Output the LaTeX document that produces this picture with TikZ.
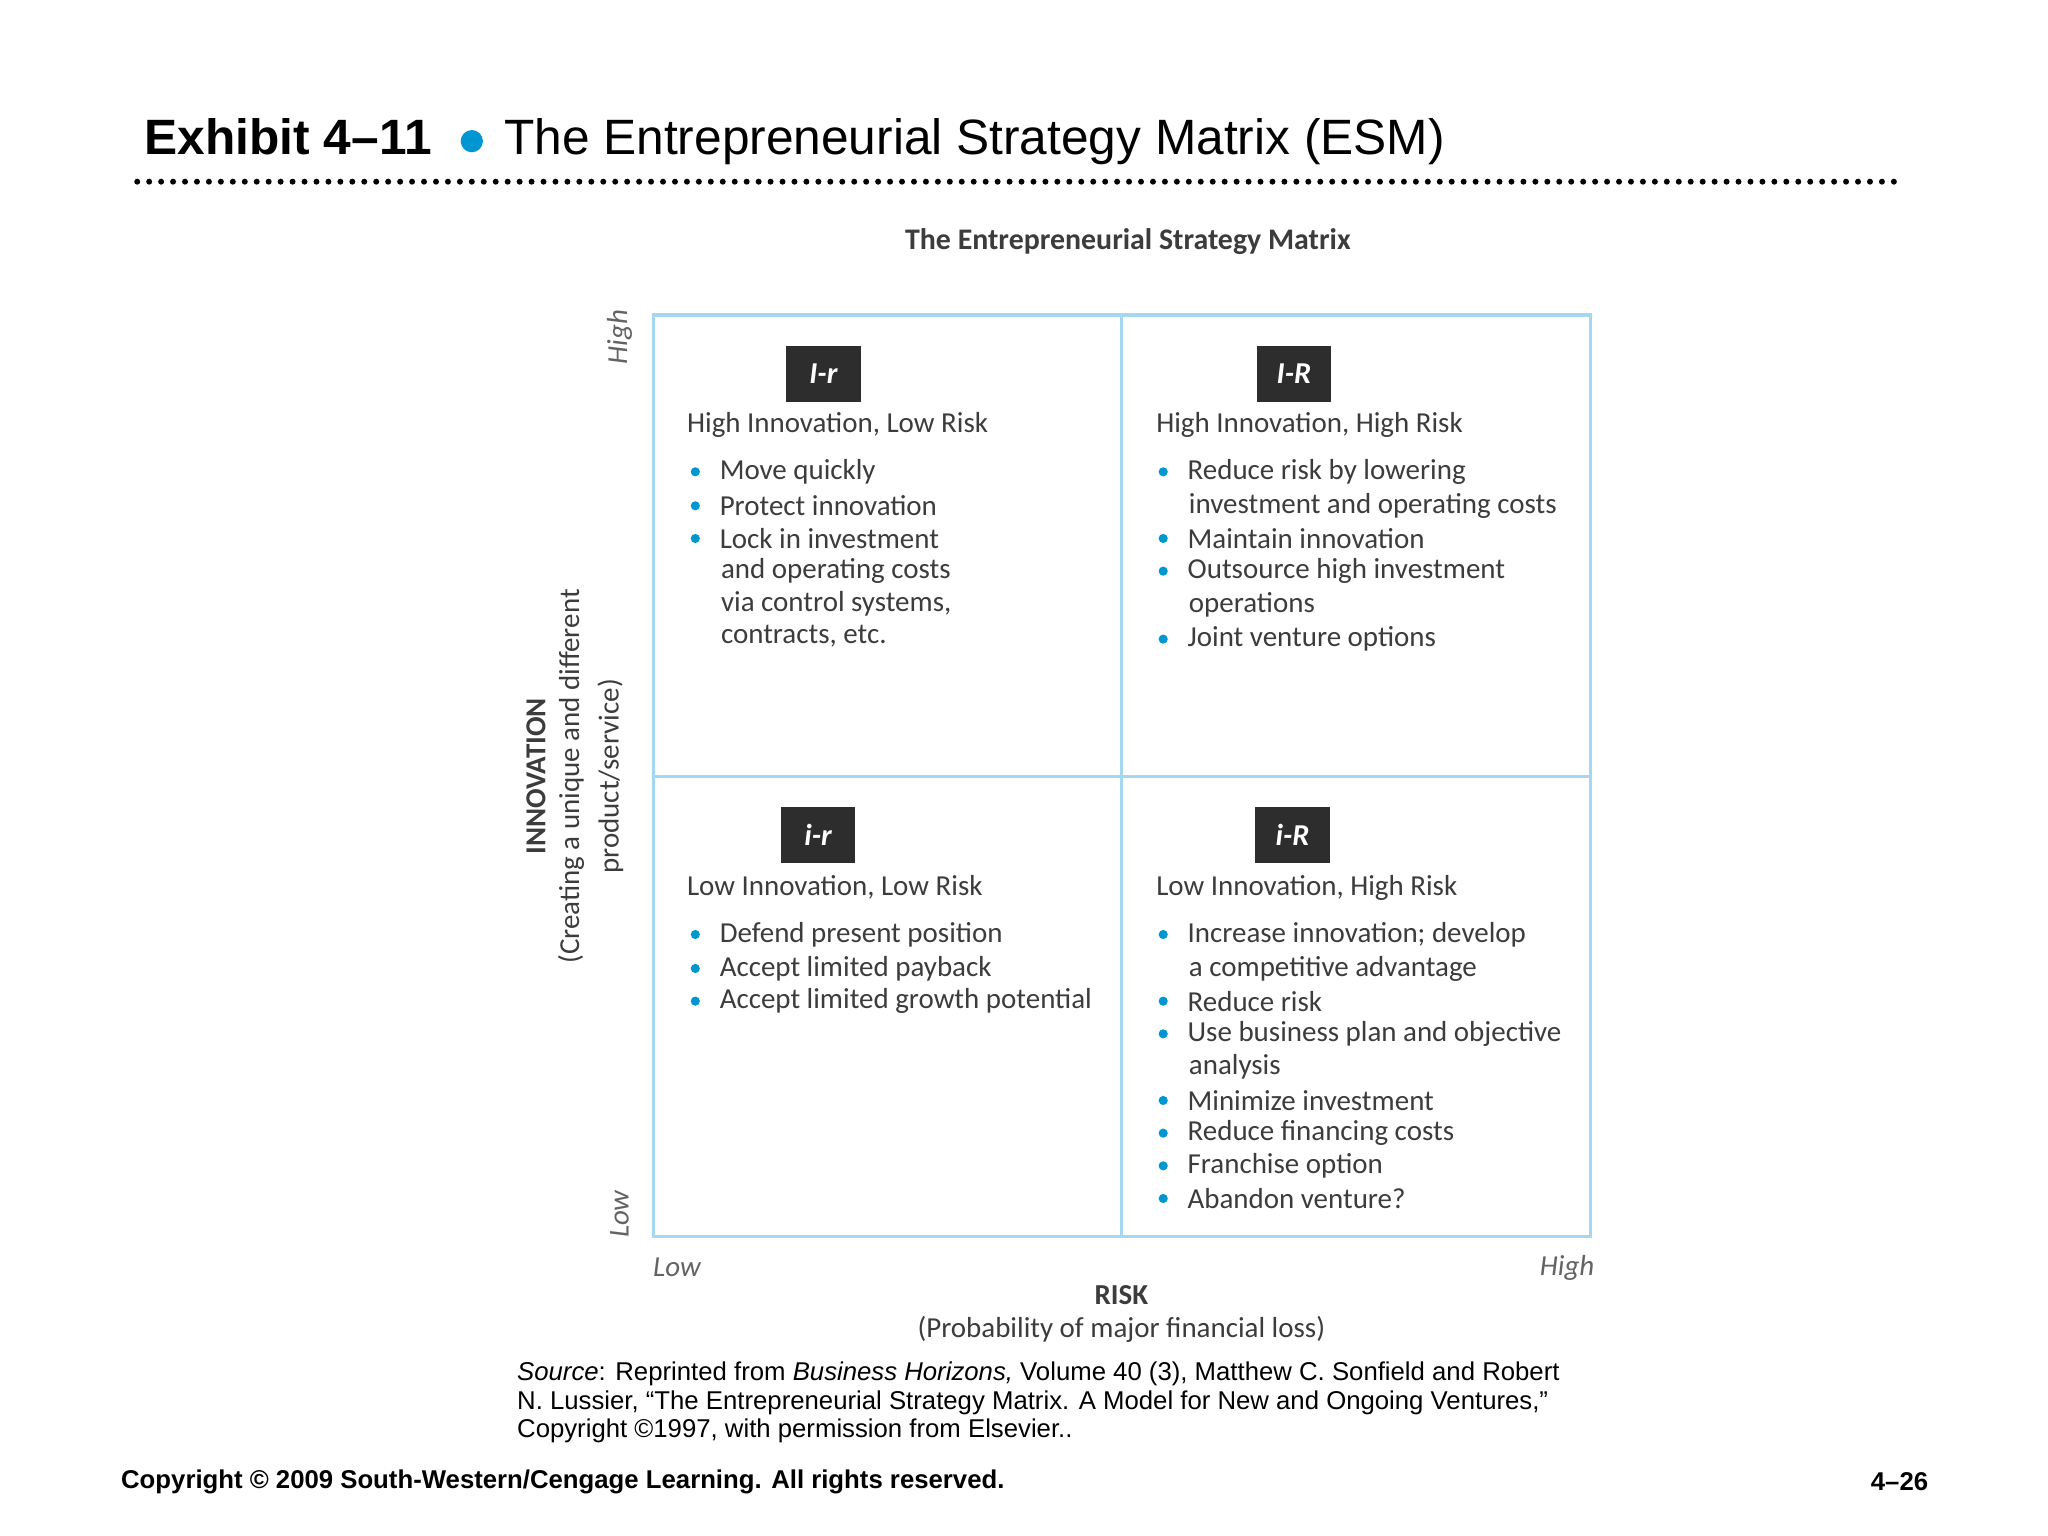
\documentclass[tikz,border=0pt]{standalone}
\usepackage{fontspec}
\setmainfont{Liberation Sans}
\newfontfamily\cond{Carlito}
\definecolor{gridblue}{RGB}{165,215,240}
\definecolor{dotblue}{RGB}{0,150,210}
\definecolor{txt}{RGB}{60,60,60}
\definecolor{boxgray}{RGB}{45,45,45}
\tikzset{
 mt/.style={anchor=west,inner sep=0pt,font=\cond\fontsize{6.3}{7}\selectfont,text=txt},
 lab/.style={fill=boxgray,text=white,minimum width=0.57cm,minimum height=0.43cm,inner sep=0pt,font=\cond\bfseries\itshape\fontsize{6.6}{7}\selectfont},
 bul/.style={circle,fill=dotblue,inner sep=0pt,minimum size=0.07cm},
 ax/.style={inner sep=0pt,font=\cond\itshape\fontsize{6.3}{7}\selectfont,text=txt!80},
 axb/.style={inner sep=0pt,font=\cond\bfseries\fontsize{6.3}{7}\selectfont,text=txt},
 src/.style={anchor=west,inner sep=0pt,font=\fontsize{5.6}{6}\selectfont}
}
\newcommand{\bl}[3]{\node[bul] at (#1-18,#2) {}; \node[mt] at (#1,#2) {#3};}
\newcommand{\cl}[3]{\node[mt] at (#1,#2) {#3};}
\begin{document}
\begin{tikzpicture}[x=0.01cm,y=-0.01cm]
\useasboundingbox (0,0) rectangle (1567,1175);
\fill[white] (0,0) rectangle (1567,1175);
% title
\node[anchor=base west,inner sep=0pt,font=\bfseries\fontsize{10.8}{12}\selectfont] (t1) at (110,118) {Exhibit 4–11};
\node[circle,fill=dotblue,inner sep=0pt,minimum size=0.17cm] (td) at (361,108) {};
\node[anchor=base west,inner sep=0pt,font=\fontsize{10.8}{12}\selectfont] (t2) at (385,118) {The Entrepreneurial Strategy Matrix (ESM)};
\draw[line width=1.3pt,dash pattern=on 0pt off 2.6pt,line cap=round] (105,139) -- (1456,139);
\node[font=\cond\bfseries\fontsize{6.5}{7}\selectfont,text=txt] (st) at (863,185) {The Entrepreneurial Strategy Matrix};
% grid
\draw[gridblue,line width=0.8pt] (500,241) rectangle (1217,946);
\draw[gridblue,line width=0.8pt] (858,241) -- (858,946) (500,594) -- (1217,594);
% quadrant labels
\node[lab] (q1) at (630,286) {I-r};
\node[lab] (q2) at (990,286) {I-R};
\node[lab] (q3) at (626,639) {i-r};
\node[lab] (q4) at (989,639) {i-R};
% Q1
\cl{525}{325}{High Innovation, Low Risk}
\bl{550}{361}{Move quickly}
\bl{550}{387}{Protect innovation}
\bl{550}{412}{Lock in investment}
\cl{551}{437}{and operating costs}
\cl{551}{462}{via control systems,}
\cl{551}{487}{contracts, etc.}
% Q2
\cl{884}{325}{High Innovation, High Risk}
\bl{908}{361}{Reduce risk by lowering}
\cl{909}{387}{investment and operating costs}
\bl{908}{412}{Maintain innovation}
\bl{908}{437}{Outsource high investment}
\cl{909}{463}{operations}
\bl{908}{489}{Joint venture options}
% Q3
\cl{525}{679}{Low Innovation, Low Risk}
\bl{550}{715}{Defend present position}
\bl{550}{741}{Accept limited payback}
\bl{550}{766}{Accept limited growth potential}
% Q4
\cl{884}{679}{Low Innovation, High Risk}
\bl{908}{715}{Increase innovation; develop}
\cl{909}{741}{a competitive advantage}
\bl{908}{766}{Reduce risk}
\bl{908}{791}{Use business plan and objective}
\cl{909}{816}{analysis}
\bl{908}{842}{Minimize investment}
\bl{908}{867}{Reduce financing costs}
\bl{908}{892}{Franchise option}
\bl{908}{917}{Abandon venture?}
% axes
\node[ax,rotate=90] (yh) at (474,258) {High};
\node[ax,rotate=90] (yl) at (474,929) {Low};
\node[axb,rotate=90] (yt) at (410,594) {INNOVATION};
\node[mt,anchor=center,rotate=90] (y1) at (437,594) {(Creating a unique and different};
\node[mt,anchor=center,rotate=90] (y2) at (467,594) {product/service)};
\node[ax] (xl) at (518,970) {Low};
\node[ax] (xh) at (1199,970) {High};
\node[axb] (xt) at (858,991) {RISK};
\node[mt,anchor=center] (x1) at (858,1017) {(Probability of major financial loss)};
% source
\node[src] (s1) at (395,1051) {\textit{Source}: Reprinted from \textit{Business Horizons,} Volume 40 (3), Matthew C. Sonfield and Robert};
\node[src] (s2) at (395,1073) {N. Lussier, “The Entrepreneurial Strategy Matrix. A Model for New and Ongoing Ventures,”};
\node[src] (s3) at (395,1095) {Copyright ©1997, with permission from Elsevier..};
\node[src,font=\bfseries\fontsize{5.6}{6}\selectfont] (c1) at (92,1134) {Copyright © 2009 South-Western/Cengage Learning. All rights reserved.};
\node[src,anchor=east,font=\bfseries\fontsize{5.6}{6}\selectfont] (c2) at (1476,1134) {4–26};
\end{tikzpicture}
\end{document}
